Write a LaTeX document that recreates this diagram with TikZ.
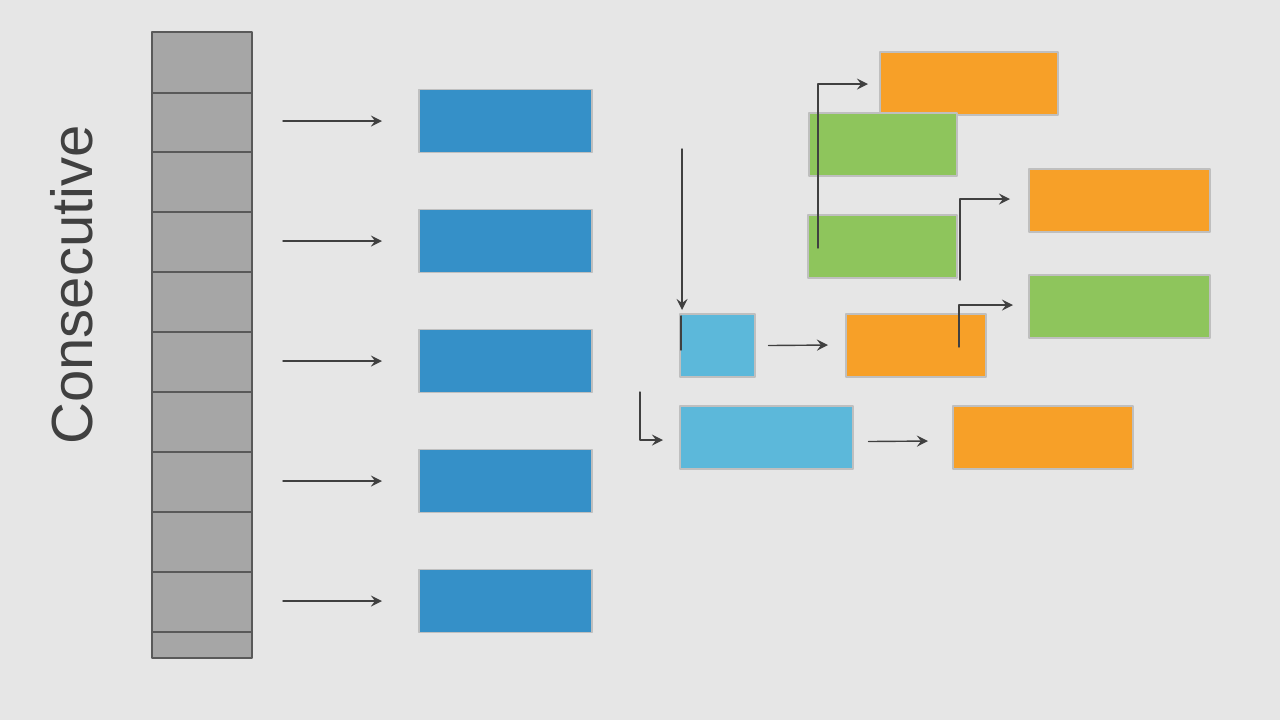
\documentclass[tikz,border=0pt]{standalone}
\usepackage{fontspec}
\setsansfont{Liberation Sans}
\usetikzlibrary{arrows}
\definecolor{bg}{HTML}{E6E6E6}
\definecolor{cellgray}{HTML}{A6A6A6}
\definecolor{blk}{HTML}{3590C8}
\definecolor{sky}{HTML}{5CB8DA}
\definecolor{ora}{HTML}{F7A028}
\definecolor{grn}{HTML}{8EC55C}
\begin{document}
\begin{tikzpicture}[line cap=round,line join=round,>=stealth,x=0.01cm,y=-0.01cm,
    cell/.style={draw=gray!70!black, fill=cellgray, line width=0.6pt},
    box/.style={draw=black!25, line width=0.4pt},
    link/.style={->, line width=0.4pt, black!75}]
  \fill[bg] (0,0) rectangle (1280,720);
  \useasboundingbox (0,0) rectangle (1280,720);

  \node[rotate=90, font=\sffamily\fontsize{16.5}{16.5}\selectfont, text=black!75] (title) at (72,285) {Consecutive};

  % memory column
  \foreach \ya/\yb [count=\i] in {32/93,93/152,152/212,212/272,272/332,332/392,392/452,452/512,512/572,572/632,632/658}
    \draw[cell] (152,\ya) rectangle (252,\yb);

  % blocks
  \foreach \y [count=\i] in {121,241,361,481,601} {
    \node[box, fill=blk, minimum width=1.73cm, minimum height=0.63cm, inner sep=0pt] (b\i) at (505.5,\y) {};
    \coordinate (s\i) at (283,\y);
    \draw[link] (s\i) -- (b\i.west -| 382,0);
  }

  % fragmented part
  \node[box, fill=sky, minimum width=0.75cm, minimum height=0.63cm, inner sep=0pt] (c1) at (717.5,345.5) {};
  \node[box, fill=sky, minimum width=1.73cm, minimum height=0.63cm, inner sep=0pt] (c2) at (766.5,437.5) {};
  \node[box, fill=ora, minimum width=1.40cm, minimum height=0.63cm, inner sep=0pt] (o1) at (916,345.5) {};
  \node[box, fill=ora, minimum width=1.80cm, minimum height=0.63cm, inner sep=0pt] (o2) at (1043,437.5) {};
  \node[box, fill=ora, minimum width=1.78cm, minimum height=0.63cm, inner sep=0pt] (o3) at (969,83.5) {};
  \node[box, fill=grn, minimum width=1.48cm, minimum height=0.63cm, inner sep=0pt] (g1) at (883,144.5) {};
  \node[box, fill=grn, minimum width=1.49cm, minimum height=0.63cm, inner sep=0pt] (g2) at (882.5,246.5) {};
  \node[box, fill=ora, minimum width=1.81cm, minimum height=0.63cm, inner sep=0pt] (o4) at (1119.5,200.5) {};
  \node[box, fill=grn, minimum width=1.81cm, minimum height=0.63cm, inner sep=0pt] (g3) at (1119.5,306.5) {};

  \coordinate (p1) at (682,149);
  \coordinate (p2) at (640,392);
  \coordinate (p3) at (818,248);
  \coordinate (p4) at (960,280);
  \coordinate (p5) at (959,347);

  \draw[link] (p1) -- (682,310);
  \draw[line width=0.4pt, black!75] (681,316) -- (681,350);
  \draw[link] (p2) |- (663,440);
  \draw[link] (c1) ++(51,0) -- (828,345);
  \draw[link] (c2) ++(102,4) -- (928,441);
  \draw[link] (p3) |- (868,84);
  \draw[link] (p4) |- (1010,199);
  \draw[link] (p5) |- (1013,305);
\end{tikzpicture}
\end{document}
